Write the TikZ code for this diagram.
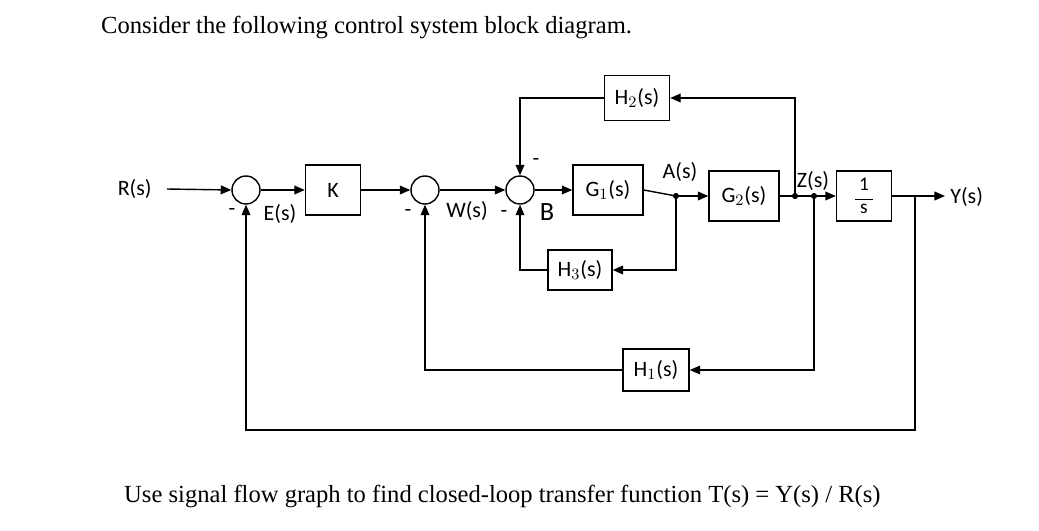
\documentclass[tikz,border=0pt]{standalone}
\usepackage{fontspec}
\setmainfont{Liberation Serif}
\newfontfamily\diag{Carlito}
\usetikzlibrary{arrows.meta}
\begin{document}
\begin{tikzpicture}[x=0.02cm,y=-0.02cm,
  blk/.style={draw,line width=0.8pt,minimum width=#1*0.02cm,minimum height=50*0.02cm,font=\diag\fontsize{12.5}{14}\selectfont,inner sep=1pt},
  blk/.default=65,
  sum/.style={draw,circle,line width=0.8pt,minimum size=28*0.02cm,inner sep=0pt},
  ln/.style={line width=0.8pt},
  ar/.style={line width=0.8pt,-{Triangle[length=6pt,width=5pt]}},
  lab/.style={font=\diag\fontsize{12.5}{14}\selectfont,inner sep=0pt},
  dot/.style={circle,fill,inner sep=0pt,minimum size=3.5pt}]
\useasboundingbox (0,0) rectangle (1039,531);
\node[anchor=west,font=\fontsize{14}{16}\selectfont] (title) at (95,27) {Consider the following control system block diagram.};
\node[anchor=west,font=\fontsize{14}{16}\selectfont] (bottom) at (118,496) {Use signal flow graph to find closed-loop transfer function T(s) = Y(s) / R(s)};

\node[lab,anchor=east] (R) at (152,189) {R(s)};
\node[sum] (s1) at (246,190) {};
\node[blk=55] (K) at (333,190) {K};
\node[sum] (s2) at (425,190) {};
\node[sum] (s3) at (520,190) {};
\node[blk=70] (G1) at (608,190) {G$_1$(s)};
\node[blk=70] (G2) at (744,196) {G$_2$(s)};
\node[blk=55,align=center,font=\diag\fontsize{11}{11}\selectfont] (I) at (864,196) {1\\[-6pt]\rule{10pt}{0.5pt}\\[-3pt]s};
\node[blk=65,minimum height=45*0.02cm] (H2) at (637,98) {H$_2$(s)};
\node[blk=64,minimum height=40*0.02cm] (H3) at (580,270) {H$_3$(s)};
\node[blk=66,minimum height=42*0.02cm] (H1) at (656,370) {H$_1$(s)};
\node[lab,anchor=west] (Y) at (950,197) {Y(s)};

\coordinate (A) at (676,196);
\coordinate (Z1) at (795,196);
\coordinate (Z2) at (814,196);
\coordinate (Yj) at (915,196);
\node[dot] at (A) {};
\node[dot] at (Z1) {};
\node[dot] at (Z2) {};

\draw[ar] (R.east)++(15,0) -- (s1.west);
\draw[ar] (s1.east) -- (K.west);
\draw[ar] (K.east) -- (s2.west);
\draw[ar] (s2.east) -- (s3.west);
\draw[ar] (s3.east) -- (G1.west);
\draw[ln] (G1.east) -- (A);
\draw[ar] (A) -- (G2.west);
\draw[ln] (G2.east) -- (Z1);
\draw[ar] (Z1) -- (I.west);
\draw[ar] (I.east) -- (945,196);
\draw[ar] (Z1) |- (H2.east);
\draw[ar] (H2.west) -| (s3.north);
\draw[ar] (A) |- (H3.east);
\draw[ar] (H3.west) -| (s3.south);
\draw[ar] (Z2) |- (H1.east);
\draw[ar] (H1.west) -| (s2.south);
\draw[ar] (Yj) -- (915,430) -| (s1.south);

\node[lab] (m1) at (232,212) {-};
\node[lab] (m2) at (408,213) {-};
\node[lab] (m3) at (504,214) {-};
\node[lab] (m4) at (536,162) {-};
\node[lab] (E) at (280,214) {E(s)};
\node[lab] (W) at (467,211) {W(s)};
\node[lab,font=\diag\fontsize{15}{16}\selectfont] (B) at (547,212) {B};
\node[lab] (As) at (680,172) {A(s)};
\node[lab] (Zs) at (813,181) {Z(s)};
\end{tikzpicture}
\end{document}
